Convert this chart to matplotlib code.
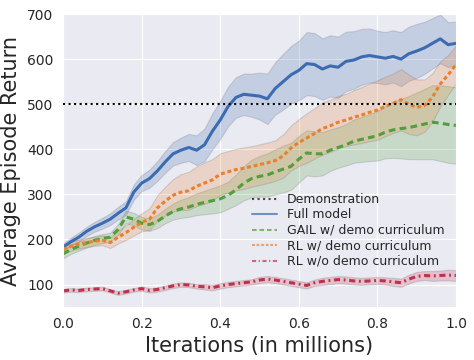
import numpy as np
import matplotlib
matplotlib.use('Agg')
import matplotlib.pyplot as plt
import seaborn as sns

# iterations (millions)
iters = np.linspace(0.0, 1.0, 51)

demo_return = 500

full_mean = [183, 195, 205, 218, 228, 236,
             245, 258, 270, 305, 325,
             335, 352, 372, 390, 398,
             404, 398, 410, 440, 465,
             495, 515, 522, 520, 518,
             512, 535, 550, 565, 575,
             590, 588, 578, 585, 582,
             595, 598, 605, 608, 605,
             602, 606, 600, 612, 618,
             625, 635, 645, 632, 635]
full_std = [8, 9, 10, 10, 11, 12,
            13, 14, 15, 17, 18,
            20, 22, 24, 26, 28,
            30, 33, 36, 40, 42,
            44, 45, 46, 48, 52,
            56, 58, 62, 64, 66,
            70, 70, 68, 68, 68,
            66, 64, 62, 60, 58,
            58, 58, 60, 60, 60,
            58, 56, 54, 50, 48]

gail_mean = [168, 178, 185, 192, 198, 202,
             205, 222, 250, 245, 236,
             233, 240, 252, 262, 268,
             272, 278, 282, 286, 290,
             298, 310, 325, 335, 340,
             343, 350, 356, 362, 378,
             392, 390, 390, 398, 404,
             410, 418, 422, 426, 430,
             438, 443, 446, 448, 452,
             456, 460, 458, 455, 453]
gail_std = [10, 10, 10, 10, 10, 10,
            10, 12, 14, 14, 14,
            14, 15, 16, 18, 20,
            22, 24, 26, 28, 30,
            30, 34, 38, 42, 45,
            48, 50, 52, 52, 52,
            50, 50, 48, 46, 45,
            46, 48, 50, 52, 55,
            58, 62, 66, 70, 74,
            78, 82, 84, 85, 85]

rl_demo_mean = [178, 185, 190, 193, 196, 198,
                193, 205, 215, 227, 238,
                245, 270, 285, 298, 305,
                308, 318, 325, 332, 345,
                350, 355, 358, 362, 366,
                370, 375, 385, 403, 415,
                425, 435, 446, 452, 460,
                465, 471, 476, 482, 487,
                495, 502, 510, 500, 493,
                497, 515, 545, 565, 588]
rl_demo_std = [10, 10, 10, 10, 10, 11,
               12, 14, 16, 18, 20,
               24, 28, 32, 36, 40,
               42, 44, 46, 46, 46,
               46, 46, 46, 45, 45,
               45, 45, 48, 50, 52,
               55, 56, 58, 58, 58,
               58, 60, 62, 64, 66,
               66, 66, 68, 66, 62,
               58, 54, 50, 44, 42]

rl_nodemo_mean = [86, 88, 87, 89, 90, 91,
                  86, 81, 84, 88, 91,
                  87, 89, 93, 97, 100,
                  99, 96, 95, 93, 97,
                  100, 102, 104, 106, 110,
                  112, 110, 107, 104, 101,
                  98, 104, 107, 109, 111,
                  110, 108, 107, 108, 109,
                  108, 106, 104, 112, 118,
                  120, 119, 120, 121, 120]
rl_nodemo_std = [4, 4, 4, 4, 4, 4,
                 4, 4, 4, 4, 5,
                 5, 5, 5, 5, 5,
                 5, 5, 6, 6, 6,
                 6, 6, 6, 6, 7,
                 7, 7, 7, 7, 7,
                 7, 7, 8, 8, 8,
                 8, 8, 8, 8, 8,
                 8, 9, 9, 10, 10,
                 10, 11, 11, 12, 12]

sns.set_style('darkgrid')
plt.rcParams['font.family'] = ['DejaVu Sans']

fig = plt.figure(figsize=(4.74, 3.6), dpi=100)
ax = fig.add_axes([0.133, 0.147, 0.829, 0.814])

series = [
    (full_mean, full_std, '#3d6bb0', (None, None), 'Full model'),
    (gail_mean, gail_std, '#529e3e', (2.2, 1.4), 'GAIL w/ demo curriculum'),
    (rl_demo_mean, rl_demo_std, '#e8812f', (1.3, 0.9), 'RL w/ demo curriculum'),
    (rl_nodemo_mean, rl_nodemo_std, '#c0304a', (2.0, 1.2, 0.6, 1.2), 'RL w/o demo curriculum'),
]

ax.axhline(demo_return, color='black', ls=':', lw=1.5, label='Demonstration', zorder=3)

for mean, std, color, dash, label in series:
    m = np.array(mean)
    s = np.array(std)
    ax.fill_between(iters, m - s, m + s, facecolor=color, alpha=0.22,
                    edgecolor=(0.4, 0.4, 0.4, 0.35), linewidth=0.8)
for mean, std, color, dash, label in series:
    line, = ax.plot(iters, mean, color=color, lw=2.2, label=label)
    if dash[0] is not None:
        line.set_dashes(dash)

ax.set_xlim(0, 1.0)
ax.set_ylim(50, 700)
ax.set_xticks([0.0, 0.2, 0.4, 0.6, 0.8, 1.0])
ax.set_yticks([100, 200, 300, 400, 500, 600, 700])
ax.tick_params(labelsize=10, colors='#262626')
ax.set_xlabel('Iterations (in millions)', fontsize=15, color='#262626')
ax.set_ylabel('Average Episode Return', fontsize=15, color='#262626')

leg = ax.legend(loc='lower right', bbox_to_anchor=(1.0, 0.095), frameon=False,
                fontsize=9, handlelength=2.0, labelspacing=0.2)
for h in leg.legend_handles:
    h.set_linewidth(1.5)
    h.set_alpha(0.7)

fig.savefig('out.png', dpi=100)
